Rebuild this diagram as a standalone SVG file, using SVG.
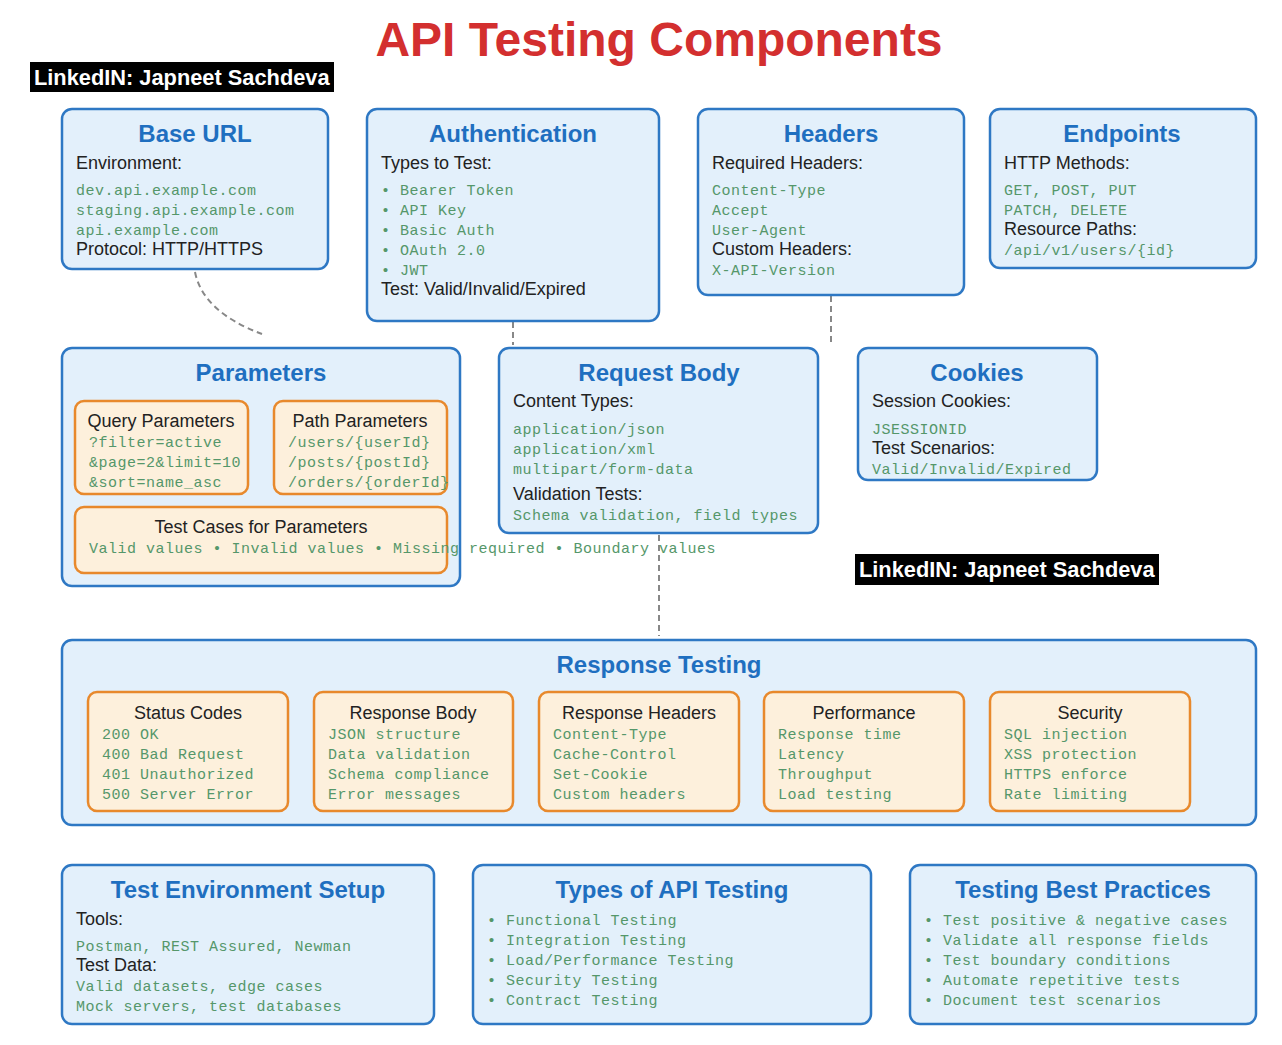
<svg xmlns="http://www.w3.org/2000/svg" width="1282" height="1045" viewBox="0 0 1282 1045">
<style>
.card{fill:#e3f0fb;stroke:#2e78c4;stroke-width:2.5}
.sub{fill:#fdf0dc;stroke:#e8892c;stroke-width:2.5}
.ttl{font-family:"Liberation Sans",Arial,sans-serif;font-weight:bold;font-size:24px;fill:#1f6fc0;text-anchor:middle}
.lbl{font-family:"Liberation Sans",Arial,sans-serif;font-size:18px;fill:#222}
.subttl{font-family:"Liberation Sans",Arial,sans-serif;font-size:18px;fill:#222;text-anchor:middle}
.mono{font-family:"Liberation Mono","Courier New",monospace;font-size:15px;letter-spacing:0.5px;fill:#55976a}
.wm{font-family:"Liberation Sans",Arial,sans-serif;font-weight:bold;font-size:21.8px;fill:#fff}
.conn{fill:none;stroke:#888;stroke-width:2;stroke-dasharray:6 4}
</style>
<rect width="1282" height="1045" fill="#fff"/>
<text x="659" y="56" text-anchor="middle" font-family="Liberation Sans,Arial,sans-serif" font-weight="bold" font-size="48" fill="#d32f2f">API Testing Components</text>
<g id="watermark1"><rect x="30" y="62" width="304" height="30" fill="#000"/><text class="wm" x="34" y="85">LinkedIN: Japneet Sachdeva</text></g>
<g id="connectors">
<path class="conn" d="M195,272 Q203,312 262,334"/>
<path class="conn" d="M513,322 L513,345"/>
<path class="conn" d="M831,296 L831,342"/>
<path class="conn" d="M659,535 L659,636"/>
</g>
<g id="base-url">
<rect class="card" x="62" y="109" width="266" height="160" rx="10"/>
<text class="ttl" x="195" y="142">Base URL</text>
<text class="lbl" x="76" y="169">Environment:</text>
<text class="mono" x="76" y="195">dev.api.example.com</text>
<text class="mono" x="76" y="215">staging.api.example.com</text>
<text class="mono" x="76" y="235">api.example.com</text>
<text class="lbl" x="76" y="255">Protocol: HTTP/HTTPS</text>
</g>
<g id="authentication">
<rect class="card" x="367" y="109" width="292" height="212" rx="10"/>
<text class="ttl" x="513" y="142">Authentication</text>
<text class="lbl" x="381" y="169">Types to Test:</text>
<text class="mono" x="381" y="195">• Bearer Token</text>
<text class="mono" x="381" y="215">• API Key</text>
<text class="mono" x="381" y="235">• Basic Auth</text>
<text class="mono" x="381" y="255">• OAuth 2.0</text>
<text class="mono" x="381" y="275">• JWT</text>
<text class="lbl" x="381" y="295">Test: Valid/Invalid/Expired</text>
</g>
<g id="headers">
<rect class="card" x="698" y="109" width="266" height="186" rx="10"/>
<text class="ttl" x="831" y="142">Headers</text>
<text class="lbl" x="712" y="169">Required Headers:</text>
<text class="mono" x="712" y="195">Content-Type</text>
<text class="mono" x="712" y="215">Accept</text>
<text class="mono" x="712" y="235">User-Agent</text>
<text class="lbl" x="712" y="255">Custom Headers:</text>
<text class="mono" x="712" y="275">X-API-Version</text>
</g>
<g id="endpoints">
<rect class="card" x="990" y="109" width="266" height="159" rx="10"/>
<text class="ttl" x="1122" y="142">Endpoints</text>
<text class="lbl" x="1004" y="169">HTTP Methods:</text>
<text class="mono" x="1004" y="195">GET, POST, PUT</text>
<text class="mono" x="1004" y="215">PATCH, DELETE</text>
<text class="lbl" x="1004" y="235">Resource Paths:</text>
<text class="mono" x="1004" y="255">/api/v1/users/{id}</text>
</g>
<g id="parameters">
<rect class="card" x="62" y="348" width="398" height="238" rx="10"/>
<text class="ttl" x="261" y="381">Parameters</text>
<g id="query-parameters">
<rect class="sub" x="75" y="401" width="173" height="93" rx="9"/>
<text class="subttl" x="161" y="427">Query Parameters</text>
<text class="mono" x="89" y="447">?filter=active</text>
<text class="mono" x="89" y="467">&amp;page=2&amp;limit=10</text>
<text class="mono" x="89" y="487">&amp;sort=name_asc</text>
</g>
<g id="path-parameters">
<rect class="sub" x="274" y="401" width="173" height="93" rx="9"/>
<text class="subttl" x="360" y="427">Path Parameters</text>
<text class="mono" x="288" y="447">/users/{userId}</text>
<text class="mono" x="288" y="467">/posts/{postId}</text>
<text class="mono" x="288" y="487">/orders/{orderId}</text>
</g>
<g id="test-cases">
<rect class="sub" x="75" y="507" width="372" height="66" rx="9"/>
<text class="subttl" x="261" y="533">Test Cases for Parameters</text>
<text class="mono" x="89" y="553">Valid values • Invalid values • Missing required • Boundary values</text>
</g>
</g>
<g id="request-body">
<rect class="card" x="499" y="348" width="319" height="185" rx="10"/>
<text class="ttl" x="659" y="381">Request Body</text>
<text class="lbl" x="513" y="407">Content Types:</text>
<text class="mono" x="513" y="434">application/json</text>
<text class="mono" x="513" y="454">application/xml</text>
<text class="mono" x="513" y="474">multipart/form-data</text>
<text class="lbl" x="513" y="500">Validation Tests:</text>
<text class="mono" x="513" y="520">Schema validation, field types</text>
</g>
<g id="cookies">
<rect class="card" x="858" y="348" width="239" height="132" rx="10"/>
<text class="ttl" x="977" y="381">Cookies</text>
<text class="lbl" x="872" y="407">Session Cookies:</text>
<text class="mono" x="872" y="434">JSESSIONID</text>
<text class="lbl" x="872" y="454">Test Scenarios:</text>
<text class="mono" x="872" y="474">Valid/Invalid/Expired</text>
</g>
<g id="watermark2"><rect x="855" y="554" width="304" height="31" fill="#000"/><text class="wm" x="859" y="577">LinkedIN: Japneet Sachdeva</text></g>
<g id="response-testing">
<rect class="card" x="62" y="640" width="1194" height="185" rx="10"/>
<text class="ttl" x="659" y="673">Response Testing</text>
<g id="status-codes">
<rect class="sub" x="88" y="692" width="200" height="119" rx="9"/>
<text class="subttl" x="188" y="719">Status Codes</text>
<text class="mono" x="102" y="739">200 OK</text>
<text class="mono" x="102" y="759">400 Bad Request</text>
<text class="mono" x="102" y="779">401 Unauthorized</text>
<text class="mono" x="102" y="799">500 Server Error</text>
</g>
<g id="response-body">
<rect class="sub" x="314" y="692" width="199" height="119" rx="9"/>
<text class="subttl" x="413" y="719">Response Body</text>
<text class="mono" x="328" y="739">JSON structure</text>
<text class="mono" x="328" y="759">Data validation</text>
<text class="mono" x="328" y="779">Schema compliance</text>
<text class="mono" x="328" y="799">Error messages</text>
</g>
<g id="response-headers">
<rect class="sub" x="539" y="692" width="200" height="119" rx="9"/>
<text class="subttl" x="639" y="719">Response Headers</text>
<text class="mono" x="553" y="739">Content-Type</text>
<text class="mono" x="553" y="759">Cache-Control</text>
<text class="mono" x="553" y="779">Set-Cookie</text>
<text class="mono" x="553" y="799">Custom headers</text>
</g>
<g id="performance">
<rect class="sub" x="764" y="692" width="200" height="119" rx="9"/>
<text class="subttl" x="864" y="719">Performance</text>
<text class="mono" x="778" y="739">Response time</text>
<text class="mono" x="778" y="759">Latency</text>
<text class="mono" x="778" y="779">Throughput</text>
<text class="mono" x="778" y="799">Load testing</text>
</g>
<g id="security">
<rect class="sub" x="990" y="692" width="200" height="119" rx="9"/>
<text class="subttl" x="1090" y="719">Security</text>
<text class="mono" x="1004" y="739">SQL injection</text>
<text class="mono" x="1004" y="759">XSS protection</text>
<text class="mono" x="1004" y="779">HTTPS enforce</text>
<text class="mono" x="1004" y="799">Rate limiting</text>
</g>
</g>
<g id="test-environment-setup">
<rect class="card" x="62" y="865" width="372" height="159" rx="10"/>
<text class="ttl" x="248" y="898">Test Environment Setup</text>
<text class="lbl" x="76" y="925">Tools:</text>
<text class="mono" x="76" y="951">Postman, REST Assured, Newman</text>
<text class="lbl" x="76" y="971">Test Data:</text>
<text class="mono" x="76" y="991">Valid datasets, edge cases</text>
<text class="mono" x="76" y="1011">Mock servers, test databases</text>
</g>
<g id="types-of-api-testing">
<rect class="card" x="473" y="865" width="398" height="159" rx="10"/>
<text class="ttl" x="672" y="898">Types of API Testing</text>
<text class="mono" x="487" y="925">• Functional Testing</text>
<text class="mono" x="487" y="945">• Integration Testing</text>
<text class="mono" x="487" y="965">• Load/Performance Testing</text>
<text class="mono" x="487" y="985">• Security Testing</text>
<text class="mono" x="487" y="1005">• Contract Testing</text>
</g>
<g id="testing-best-practices">
<rect class="card" x="910" y="865" width="346" height="159" rx="10"/>
<text class="ttl" x="1083" y="898">Testing Best Practices</text>
<text class="mono" x="924" y="925">• Test positive &amp; negative cases</text>
<text class="mono" x="924" y="945">• Validate all response fields</text>
<text class="mono" x="924" y="965">• Test boundary conditions</text>
<text class="mono" x="924" y="985">• Automate repetitive tests</text>
<text class="mono" x="924" y="1005">• Document test scenarios</text>
</g>
</svg>
